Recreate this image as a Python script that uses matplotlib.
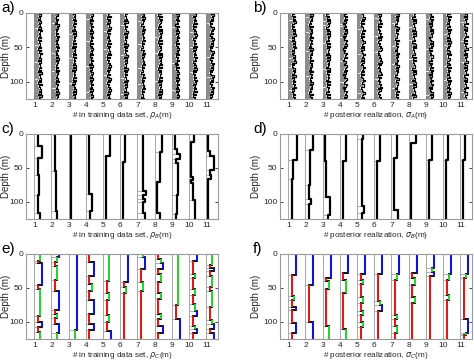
import numpy as np
import matplotlib
matplotlib.use("Agg")
import matplotlib.pyplot as plt
from matplotlib.patches import Rectangle

plt.rcParams["font.family"] = ["Liberation Sans", "DejaVu Sans"]
plt.rcParams["mathtext.fontset"] = "dejavusans"

DEPTH_MAX = 126
cols = list(range(1, 12))

# --- row 1: fine layered logs, one digit per 2 m layer (0 = low, 9 = high)
a_train = [
    "4736258463729546382745637284956372846573829465738294657382946",
    "5824736195846273958462739584627394856273948562739485627394856",
    "3657284936571829465738291647382956473829165748392615748392657",
    "6847293658472936584729365847293658471936258473926584739265847",
    "5392847165938274615839274658392716485937264815937264859372648",
    "7365829147365928374651928374659283746519283746592837465192837",
    "4829375618492736584927365184927365849273651849273658492736518",
    "6193847526193847562918374652918374659281736459281736459281736",
    "3857294618573926485739264857392648517392648573926485739264857",
    "5726384917263849572638491726384957263849172638495726384917263",
    "4958372614958372649583726149583726495837261495837264958372614",
]
a_post = [
    "6283749516283749526183749526138475926138475291638475926138475",
    "3947582619475836294758361947582639475826194758362947583619475",
    "5172839465172839465718293645718293647518293647518293645718293",
    "7384926157384926153874926153874921653874926153874296153874926",
    "4659382714659382714695382714695382741695382714695387214695382",
    "2846375918246375918426375981426375918426357918426375918426375",
    "5938274615938274651938274615938247615938274615932874615938274",
    "6471829354671829354617829354671829345671829354617829354671823",
    "3582947163582947613582947163528947163582947163582497163582947",
    "7193846257193846527193846257193486257193846257193846275193846",
    "4827365914827365941827365914827356914827365914827365914287365",
]
# depths of the thicker (white) layers inside the grey fill
a_train_white = [
    [22, 47, 71, 97], [14, 58, 84, 109], [30, 66, 102], [9, 41, 77, 115],
    [26, 53, 90], [18, 62, 95, 118], [11, 45, 80, 104], [35, 58, 99],
    [20, 73, 112], [28, 50, 86], [15, 64, 93],
]
a_post_white = [
    [10, 38, 66, 79, 113], [6, 27, 55, 92], [12, 17, 44, 81, 108],
    [16, 19, 35, 70, 101], [24, 60, 88, 117], [8, 33, 57, 96],
    [14, 48, 74, 110], [21, 39, 67, 103], [9, 52, 85, 119],
    [30, 46, 78, 98], [13, 41, 72, 115],
]

# --- row 2: blocky logs, (top depth in m, value offset)
b_train = [
    [(0, 0.20), (17, 0.46), (35, 0.20), (60, 0.27), (90, 0.20), (117, 0.34)],
    [(0, 0.21), (55, 0.26), (113, 0.33)],
    [(0, 0.15)],
    [(0, 0.21), (88, 0.38), (113, 0.26)],
    [(0, 0.42), (32, 0.18)],
    [(0, 0.30), (42, 0.15)],
    [(0, 0.32), (84, 0.48), (90, 0.33), (96, 0.45), (100, 0.30), (117, 0.42)],
    [(0, 0.40), (26, 0.32), (71, 0.16), (116, 0.30)],
    [(0, 0.20), (22, 0.28), (30, 0.46), (37, 0.25), (43, 0.35), (90, 0.30), (118, 0.22)],
    [(0, 0.30), (12, 0.12), (64, 0.20), (68, 0.13), (72, 0.20), (97, 0.33)],
    [(0, 0.10), (25, 0.20), (33, 0.44), (53, 0.22), (60, 0.30), (66, 0.12)],
]
b_post = [
    [(0, 0.48), (38, 0.30), (67, 0.24)],
    [(0, 0.45), (24, 0.27), (75, 0.18), (96, 0.34), (104, 0.20)],
    [(0, 0.15), (40, 0.20), (93, 0.45), (119, 0.30)],
    [(0, 0.35), (40, 0.18)],
    [(0, 0.36), (8, 0.26), (106, 0.42), (116, 0.28)],
    [(0, 0.34), (40, 0.16)],
    [(0, 0.31), (35, 0.17), (112, 0.37)],
    [(0, 0.40), (14, 0.14)],
    [(0, 0.33), (38, 0.16)],
    [(0, 0.30), (38, 0.16)],
    [(0, 0.30), (38, 0.15)],
]

# --- row 3: categorical logs, (top depth in m, class)
c_train = [
    [(0, "G"), (10, "R"), (14, "B"), (46, "R"), (52, "G"), (92, "R"), (100, "B"), (108, "R"), (115, "G")],
    [(0, "B"), (5, "G"), (12, "R"), (18, "G"), (38, "R"), (54, "B"), (82, "R"), (88, "G"), (95, "R"), (104, "B"), (116, "G")],
    [(0, "B"), (112, "G")],
    [(0, "R"), (12, "B"), (32, "R"), (44, "G"), (54, "R"), (68, "B"), (88, "R"), (104, "B"), (112, "R")],
    [(0, "G"), (40, "R"), (58, "G"), (68, "R"), (90, "G"), (100, "R"), (114, "B")],
    [(0, "B"), (42, "R"), (48, "G"), (58, "R")],
    [(0, "G"), (5, "B"), (22, "R"), (42, "G"), (55, "R")],
    [(0, "R"), (8, "G"), (14, "B"), (22, "R"), (30, "G"), (42, "R"), (58, "G"), (66, "R"), (88, "G"), (96, "R"), (106, "B"), (116, "R")],
    [(0, "G"), (76, "R"), (96, "B")],
    [(0, "B"), (10, "R"), (30, "G"), (36, "R"), (52, "G"), (60, "R"), (74, "G"), (84, "B"), (92, "R"), (106, "G"), (110, "B"), (116, "R")],
    [(0, "G"), (16, "R"), (20, "B"), (25, "R"), (32, "G"), (48, "R"), (54, "G"), (78, "R"), (98, "G"), (104, "B"), (110, "R"), (116, "B")],
]
c_post = [
    [(0, "B"), (31, "R"), (62, "G"), (68, "R"), (78, "B"), (82, "R"), (102, "B"), (116, "R")],
    [(0, "B"), (46, "R"), (100, "B")],
    [(0, "B"), (35, "R"), (40, "G"), (52, "R"), (106, "G")],
    [(0, "B"), (28, "R"), (38, "G"), (58, "R"), (110, "G")],
    [(0, "B"), (30, "R"), (38, "G"), (44, "R"), (64, "G"), (72, "R"), (84, "G"), (90, "R"), (100, "G"), (108, "R")],
    [(0, "B"), (30, "R"), (70, "G"), (76, "B"), (84, "R")],
    [(0, "B"), (30, "G"), (38, "R"), (90, "G"), (96, "R"), (106, "G"), (116, "R")],
    [(0, "B"), (28, "R"), (36, "G"), (46, "R"), (64, "G"), (72, "R")],
    [(0, "B"), (20, "G"), (26, "B"), (32, "R")],
    [(0, "B"), (30, "G"), (38, "R"), (60, "G"), (68, "R")],
    [(0, "B"), (30, "G"), (36, "R"), (96, "B"), (116, "G"), (120, "R")],
]
class_value = {"R": 0.21, "G": 0.34, "B": 0.46}
class_color = {"R": "#d81c1c", "G": "#33cc33", "B": "#1414c8"}

xlabels = [
    "# in training data set, $\\rho_A$(m)", "# posterior realization, $\\sigma_A$(m)",
    "# in training data set, $\\rho_B$(m)", "# posterior realization, $\\sigma_B$(m)",
    "# in training data set, $\\rho_C$(m)", "# posterior realization, $\\sigma_C$(m)",
]
letters = ["a)", "b)", "c)", "d)", "e)", "f)"]

GREY = "#8c8c8c"
EDGE = "#a8a8a8"
TXT = "#262626"


def step_xy(tops, vals):
    bots = list(tops[1:]) + [DEPTH_MAX]
    xs, ys = [], []
    for t, b, v in zip(tops, bots, vals):
        xs += [v, v]
        ys += [t, b]
    return np.array(xs), np.array(ys)


def draw_fine(ax, strings, whites):
    for k, s, wl in zip(cols, strings, whites):
        d = np.array([int(c) for c in s])
        tops = np.linspace(0, DEPTH_MAX, len(d) + 1)[:-1]
        xs, ys = step_xy(tops, k + 0.18 + 0.028 * d)
        ax.fill_betweenx(ys, k, xs - 0.05, color=GREY, lw=0)
        ax.plot([k, k], [0, DEPTH_MAX], color=GREY, lw=0.6)
        for w in wl:
            ax.plot([k + 0.03, k + 0.15], [w, w], color="white", lw=0.6)
        ax.plot(xs, ys, color="k", lw=0.9)


def draw_blocky(ax, layers):
    for k, lay in zip(cols, layers):
        tops = [t for t, _ in lay]
        vals = [k + v for _, v in lay]
        bots = tops[1:] + [DEPTH_MAX]
        ax.plot([k, k], [0, DEPTH_MAX], color=EDGE, lw=0.7)
        for t, b, v in zip(tops, bots, vals):
            ax.add_patch(Rectangle((k, t), v - k - 0.05, b - t, fc="white",
                                   ec=EDGE, lw=0.6))
        xs, ys = step_xy(tops, vals)
        ax.plot(xs, ys, color="k", lw=1.6, solid_capstyle="butt")


def draw_classes(ax, layers):
    for k, lay in zip(cols, layers):
        tops = [t for t, _ in lay]
        cls = [c for _, c in lay]
        vals = [k + class_value[c] for c in cls]
        bots = tops[1:] + [DEPTH_MAX]
        ax.plot([k, k], [0, DEPTH_MAX], color=EDGE, lw=0.7)
        for t, b, v in zip(tops, bots, vals):
            ax.add_patch(Rectangle((k, t), v - k - 0.04, b - t, fc="white",
                                   ec=EDGE, lw=0.6))
        for i in range(1, len(vals)):
            ax.plot([vals[i - 1], vals[i]], [tops[i], tops[i]], color="k", lw=1.3)
        for t, b, v, c in zip(tops, bots, vals, cls):
            ax.plot([v, v], [t, b], color=class_color[c], lw=1.5,
                    solid_capstyle="butt")


fig = plt.figure(figsize=(4.74, 3.64), dpi=100)
W, H = 474, 364
lefts = [26, 280]
rows = [(13, 99), (134, 219), (254, 339)]
axes = []
for r, (top, bot) in enumerate(rows):
    for c, left in enumerate(lefts):
        ax = fig.add_axes([left / W, 1 - bot / H, 192 / W, (bot - top) / H])
        axes.append(ax)

draw_fine(axes[0], a_train, a_train_white)
draw_fine(axes[1], a_post, a_post_white)
draw_blocky(axes[2], b_train)
draw_blocky(axes[3], b_post)
draw_classes(axes[4], c_train)
draw_classes(axes[5], c_post)

for i, ax in enumerate(axes):
    ax.set_xlim(0.52, 11.68)
    ax.set_ylim(DEPTH_MAX - 0.5, 0)
    ax.set_xticks(cols)
    ax.set_yticks([0, 50, 100])
    ax.tick_params(direction="in", top=True, right=True, length=2.5, width=0.6,
                   labelsize=6, colors=TXT, pad=2)
    for sp in ax.spines.values():
        sp.set_color("#9a9a9a")
        sp.set_linewidth(0.8)
    ax.set_ylabel("Depth (m)", fontsize=7, color=TXT)
    ax.yaxis.set_label_coords(-0.08 if i % 2 == 0 else -0.1, 0.5)
    ax.set_xlabel(xlabels[i], fontsize=5.9, color=TXT, labelpad=1)
    top = rows[i // 2][0]
    x0 = 1 if i % 2 == 0 else 253
    fig.text(x0 / W, 1 - (top - 12) / H, letters[i], fontsize=11, color="k",
             ha="left", va="top")

fig.savefig("out.png", dpi=100)
